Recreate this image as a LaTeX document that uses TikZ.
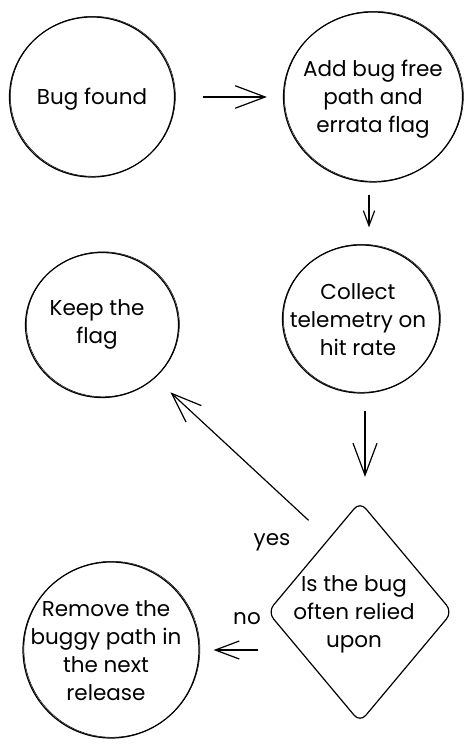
\documentclass[tikz,border=0pt]{standalone}
\usepackage{fontspec}
\setmainfont{Poppins}
\usetikzlibrary{shapes.geometric,arrows.meta,calc}
\begin{document}
\begin{tikzpicture}[x=1pt,y=-1pt,
  txt/.style={font=\fontsize{21.5}{28}\selectfont, align=center, inner sep=0pt},
  circ/.style={ellipse, draw, line width=1.2pt, inner sep=0pt,
    preaction={draw, line width=0.5pt, transform canvas={shift={(0.9pt,0.7pt)}}}},
  dec/.style={diamond, draw, line width=1.2pt, inner sep=0pt, rounded corners=9pt},
  arr/.style={line width=1.2pt, -{Straight Barb[length=#1pt, width=#1*0.75pt, line width=1.2pt]}},
  arr/.default=28]
\useasboundingbox (0,0) rectangle (474,749);
\fill[white] (0,0) rectangle (474,749);

% shapes
\node[circ, minimum width=165, minimum height=160] (bug) at (92,97) {};
\node[txt] (bugt) at (92,99) {Bug found};

\node[circ, minimum width=179, minimum height=170] (add) at (373,97) {};
\node[txt] (addt) at (373,99) {Add bug free\\path and\\errata flag};

\node[circ, minimum width=153, minimum height=145] (keep) at (102,325) {};
\node[txt] (keept) at (97,324) {Keep the\\flag};

\node[circ, minimum width=157, minimum height=148] (col) at (361,319) {};
\node[txt] (colt) at (358,320) {Collect\\telemetry on\\hit rate};

\node[dec, minimum width=185, minimum height=221] (dia) at (360,612) {};
\node[txt] (diat) at (354,614) {Is the bug\\often relied\\upon};

\node[circ, minimum width=176, minimum height=176] (rem) at (111,650) {};
\node[txt] (remt) at (106,651) {Remove the\\buggy path in\\the next\\release};

% connectors
\draw[arr=30, shorten <=28pt, shorten >=16pt] (bug.east) -- (add.west);
\draw[arr=15, shorten <=12pt, shorten >=17pt] ([xshift=-4pt]add.south) -- ([xshift=8pt]col.north);
\draw[arr=32, shorten <=17pt, shorten >=24pt] ([xshift=4pt]col.south) -- ([xshift=5pt]dia.north);
\draw[arr=30, shorten <=27pt, shorten >=21pt] ($(dia.west)!0.66!(dia.north)$) -- (keep.-45);
\draw[arr=24, shorten >=14pt] ([xshift=-9pt]dia.west |- rem.east) -- (rem.east);

% labels
\node[txt] (yes) at (272,542) {yes};
\node[txt] (no) at (247,619) {no};
\end{tikzpicture}
\end{document}
